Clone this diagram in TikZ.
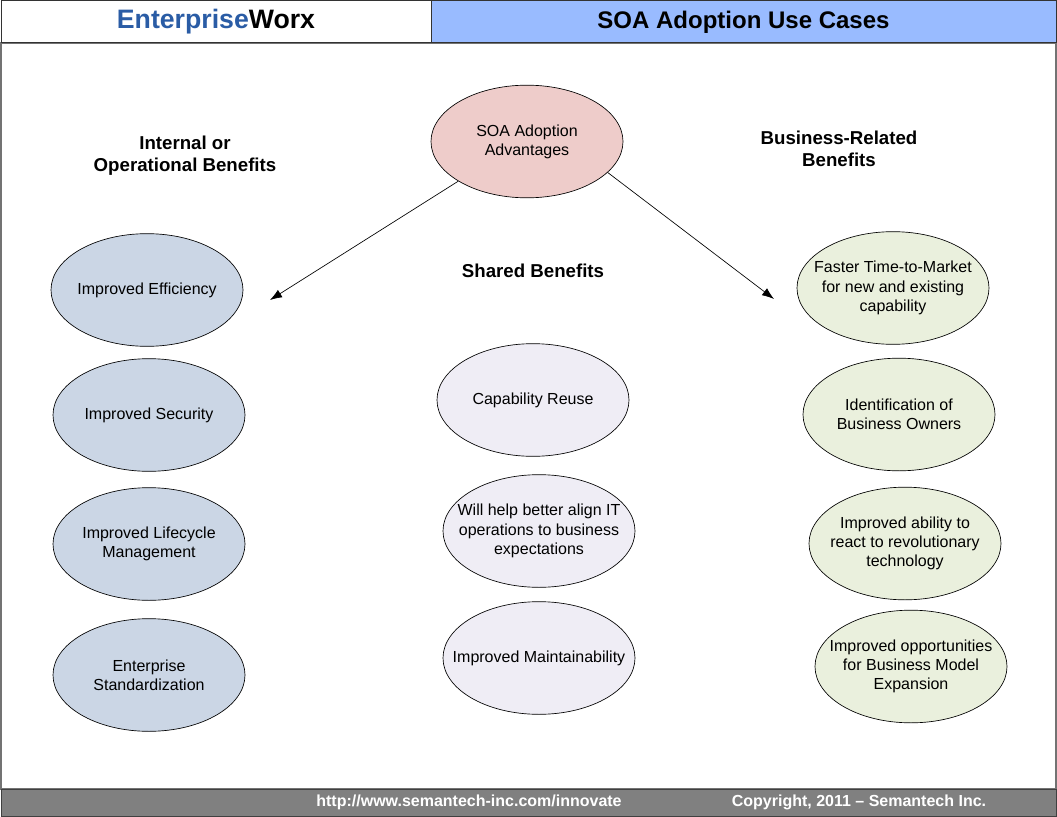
\documentclass[tikz,border=0pt]{standalone}
\usepackage{fontspec}
\setmainfont{Liberation Sans}
\usepackage{tikz}
\usetikzlibrary{shapes.geometric}
\usetikzlibrary{arrows.meta}
\definecolor{myblue}{HTML}{CBD6E5}
\definecolor{myred}{HTML}{EECCCA}
\definecolor{mygreen}{HTML}{EAF0DD}
\definecolor{mylilac}{HTML}{EFEDF5}
\definecolor{myhead}{HTML}{99BBFF}
\definecolor{mybrand}{HTML}{2A5CA5}
\tikzset{
	bubble/.style={draw=black, ellipse, line width=0.5pt, minimum width=144pt, minimum height=84.5pt, inner sep=-15pt, align=center, font=\fontsize{12}{14.4}\selectfont},
	heading/.style={align=center, font=\fontsize{14}{16.5}\selectfont\bfseries},
	bar/.style={draw=black!80, line width=0.75pt, minimum height=31.5pt, inner sep=0pt},
	footer/.style={text=white, font=\fontsize{12}{14}\selectfont\bfseries}
}
\begin{document}
\begin{tikzpicture}[x=0.75pt,y=-0.75pt]
		\useasboundingbox (0,0) rectangle (1057,817);
		
		% Frame and bars
		\draw[color=black!55, line width=1pt] (1,43) rectangle (1056,789);
		\node[bar, fill=white, minimum width=322.5pt, font=\fontsize{20}{24}\selectfont\bfseries] (brand) at (216,22) {\textcolor{mybrand}{Enterprise}Worx};
		\node[bar, fill=myhead, minimum width=468.75pt, font=\fontsize{18}{22}\selectfont\bfseries] (title) at (743.5,22) {SOA Adoption Use Cases};
		\fill[color=black!50] (1,789) rectangle (1056,816);
		\draw[color=black!75, line width=0.75pt] (1,789) rectangle (1056,816);
		\node[footer] (site) at (469,802.5) {http://www.semantech-inc.com/innovate};
		\node[footer] (copy) at (859,802.5) {Copyright, 2011 – Semantech Inc.};
		
		% Root and headings
		\node[bubble, fill=myred] (root) at (527,141.5) {SOA Adoption\\Advantages};
		\node[heading] (internal) at (185,156) {Internal or\\Operational Benefits};
		\node[heading] (shared) at (533,271) {Shared Benefits};
		\node[heading] (business) at (839,149) {Business-Related\\Benefits};
		
		% Internal benefits
		\node[bubble, fill=myblue] (efficiency) at (147,290) {Improved Efficiency};
		\node[bubble, fill=myblue] (security) at (149,415) {Improved Security};
		\node[bubble, fill=myblue] (lifecycle) at (149,544) {Improved Lifecycle\\Management};
		\node[bubble, fill=myblue] (standard) at (149,675) {Enterprise\\Standardization};
		
		% Shared benefits
		\node[bubble, fill=mylilac] (reuse) at (533,400) {Capability Reuse};
		\node[bubble, fill=mylilac] (align) at (539,531) {Will help better align IT\\operations to business\\expectations};
		\node[bubble, fill=mylilac] (maintain) at (539,658) {Improved Maintainability};
		
		% Business benefits
		\node[bubble, fill=mygreen] (market) at (893,288) {Faster Time-to-Market\\for new and existing\\capability};
		\node[bubble, fill=mygreen] (owners) at (899,414.5) {Identification of\\Business Owners};
		\node[bubble, fill=mygreen] (react) at (905,543.5) {Improved ability to\\react to revolutionary\\technology};
		\node[bubble, fill=mygreen] (model) at (911,666.5) {Improved opportunities\\for Business Model\\Expansion};
		
		% Arrows
		\coordinate (leftend) at (270,300);
		\coordinate (rightend) at (774,299);
		\draw[-{Latex[length=9pt,width=6.5pt]}, line width=0.5pt] (root.210.7) -- (leftend);
		\draw[-{Latex[length=9pt,width=6.5pt]}, line width=0.5pt] (root.-21) -- (rightend);
	\end{tikzpicture}
\end{document}
